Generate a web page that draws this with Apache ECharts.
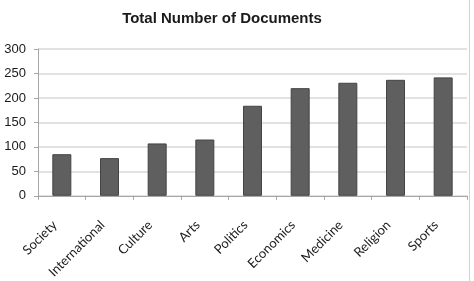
<!DOCTYPE html>
<html>
<head>
<meta charset="utf-8">
<script src="https://cdn.jsdelivr.net/npm/echarts@6/dist/echarts.min.js"></script>
<style>html,body{margin:0;padding:0;background:#fff}#c{width:474px;height:281px}</style>
</head>
<body>
<div id="c"></div>
<script>
const categories = ["Society","International","Culture","Arts","Politics","Economics","Medicine","Religion","Sports"];
const documents = [85, 77, 107, 115, 184, 220, 231, 237, 242];
const yTicks = [0, 50, 100, 150, 200, 250, 300];

const chart = echarts.init(document.getElementById('c'), null, {renderer: 'canvas'});
chart.setOption({
  animation: false,
  backgroundColor: '#ffffff',
  title: {
    text: 'Total Number of Documents',
    left: 217, top: 6, textAlign: 'center',
    textStyle: {fontFamily: 'Liberation Sans', fontWeight: 'bold', fontSize: 15, color: '#1a1a1a'}
  },
  grid: {left: 38, right: 7, top: 49, bottom: 85, containLabel: false},
  xAxis: {
    type: 'category',
    data: categories,
    axisLine: {lineStyle: {color: '#a6a6a6', width: 1}},
    axisTick: {show: true, length: 4, lineStyle: {color: '#a6a6a6'}},
    axisLabel: {rotate: 45, margin: 20, padding: [0, 10, 0, 0], fontFamily: 'Lato', fontSize: 13, color: '#1a1a1a', interval: 0}
  },
  yAxis: {
    type: 'value',
    min: yTicks[0], max: yTicks[yTicks.length - 1], interval: 50,
    axisLine: {show: true, lineStyle: {color: '#a6a6a6', width: 1}},
    axisTick: {show: true, length: 4, lineStyle: {color: '#a6a6a6'}},
    axisLabel: {margin: 12, fontFamily: 'Liberation Sans', fontSize: 13, color: '#1a1a1a'},
    splitLine: {lineStyle: {color: '#d9d9d9', width: 1.5}}
  },
  series: [{
    type: 'bar',
    data: documents,
    barWidth: 19,
    itemStyle: {color: '#5f5f5f', borderColor: '#444444', borderWidth: 1}
  }],
  graphic: [{
    type: 'line', shape: {x1: 469.5, y1: 0, x2: 469.5, y2: 281},
    style: {stroke: '#d0d0d0', lineWidth: 1}
  }]
});
</script>
</body>
</html>
